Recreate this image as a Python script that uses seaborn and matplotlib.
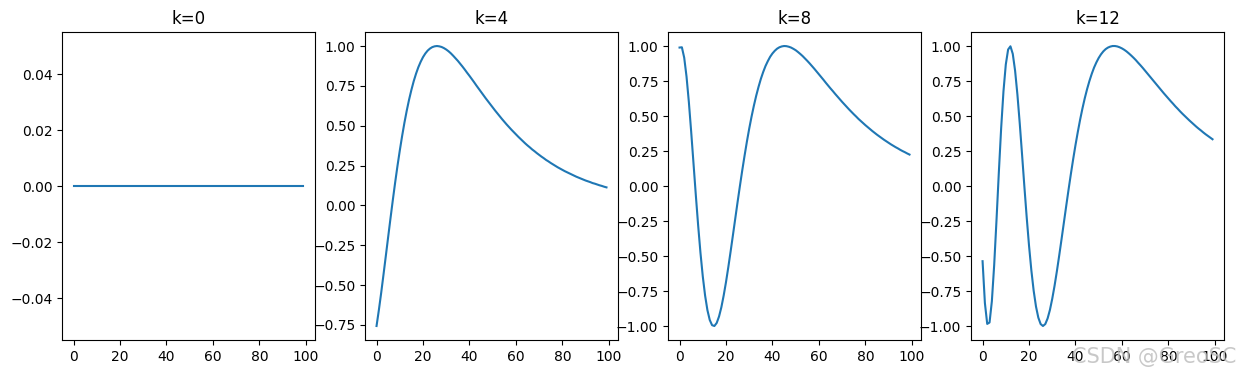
import matplotlib
matplotlib.use("Agg")
import matplotlib.pyplot as plt
import seaborn as sns
import pandas as pd

# positions 0..99 along the encoding dimension
pos = list(range(100))

k0 = [0.0] * 100

k4 = [-0.757, -0.657, -0.549, -0.434, -0.317, -0.199, -0.082, 0.032, 0.142, 0.246,
      0.343, 0.434, 0.518, 0.594, 0.663, 0.724, 0.779, 0.826, 0.867, 0.901,
      0.930, 0.953, 0.971, 0.984, 0.993, 0.998, 1.000, 0.998, 0.994, 0.987,
      0.978, 0.967, 0.954, 0.939, 0.923, 0.907, 0.889, 0.871, 0.852, 0.832,
      0.813, 0.793, 0.773, 0.752, 0.732, 0.712, 0.692, 0.672, 0.653, 0.634,
      0.615, 0.596, 0.578, 0.560, 0.542, 0.525, 0.508, 0.492, 0.476, 0.461,
      0.446, 0.431, 0.417, 0.403, 0.389, 0.376, 0.364, 0.351, 0.340, 0.328,
      0.317, 0.306, 0.296, 0.285, 0.276, 0.266, 0.257, 0.248, 0.239, 0.231,
      0.223, 0.215, 0.208, 0.201, 0.194, 0.187, 0.180, 0.174, 0.168, 0.162,
      0.156, 0.151, 0.146, 0.140, 0.136, 0.131, 0.126, 0.122, 0.117, 0.113]

k8 = [0.989, 0.991, 0.917, 0.782, 0.601, 0.389, 0.163, -0.064, -0.280, -0.476,
      -0.645, -0.782, -0.886, -0.956, -0.993, -0.999, -0.977, -0.931, -0.865, -0.781,
      -0.685, -0.578, -0.465, -0.348, -0.230, -0.112, 0.002, 0.113, 0.218, 0.318,
      0.411, 0.496, 0.574, 0.645, 0.708, 0.765, 0.814, 0.857, 0.892, 0.923,
      0.947, 0.966, 0.981, 0.991, 0.997, 1.000, 0.999, 0.995, 0.989, 0.980,
      0.970, 0.957, 0.943, 0.928, 0.911, 0.894, 0.876, 0.857, 0.838, 0.818,
      0.798, 0.778, 0.758, 0.737, 0.717, 0.697, 0.678, 0.658, 0.639, 0.620,
      0.601, 0.583, 0.565, 0.547, 0.530, 0.513, 0.497, 0.480, 0.465, 0.450,
      0.435, 0.421, 0.407, 0.393, 0.380, 0.367, 0.355, 0.343, 0.331, 0.320,
      0.309, 0.298, 0.288, 0.278, 0.269, 0.259, 0.250, 0.242, 0.233, 0.225]

k12 = [-0.537, -0.836, -0.985, -0.975, -0.823, -0.564, -0.243, 0.096, 0.413, 0.677,
       0.868, 0.975, 0.998, 0.944, 0.824, 0.653, 0.448, 0.225, -0.004, -0.224,
       -0.426, -0.602, -0.748, -0.861, -0.940, -0.986, -1.000, -0.986, -0.946, -0.885,
       -0.805, -0.712, -0.608, -0.496, -0.380, -0.262, -0.144, -0.028, 0.084, 0.191,
       0.292, 0.386, 0.474, 0.554, 0.627, 0.692, 0.750, 0.801, 0.846, 0.883,
       0.915, 0.941, 0.962, 0.978, 0.989, 0.996, 1.000, 1.000, 0.997, 0.991,
       0.983, 0.973, 0.961, 0.947, 0.932, 0.916, 0.899, 0.880, 0.862, 0.843,
       0.823, 0.803, 0.783, 0.763, 0.743, 0.723, 0.703, 0.683, 0.663, 0.644,
       0.625, 0.606, 0.588, 0.569, 0.552, 0.534, 0.517, 0.501, 0.485, 0.469,
       0.454, 0.439, 0.424, 0.410, 0.397, 0.383, 0.370, 0.358, 0.346, 0.334]

titles = ["k=0", "k=4", "k=8", "k=12"]
series = [k0, k4, k8, k12]

fig, axes = plt.subplots(1, 4, figsize=(12.38, 3.74), dpi=100)
fig.subplots_adjust(left=0.0501, right=0.9887, top=0.9144, bottom=0.0909, wspace=0.198)

for ax, title, vals in zip(axes, titles, series):
    df = pd.DataFrame({"pos": pos, "val": vals})
    sns.lineplot(x="pos", y="val", data=df, ax=ax, color="#1f77b4")
    ax.set_title(title)
    ax.set_xlabel("")
    ax.set_ylabel("")

# watermark bottom right
fig.text(0.9985, 0.02, "CSDN @GreoSC", ha="right", va="bottom",
         fontsize=15, color="#bbbbbb", alpha=0.8)

fig.savefig("out.png", dpi=100)
